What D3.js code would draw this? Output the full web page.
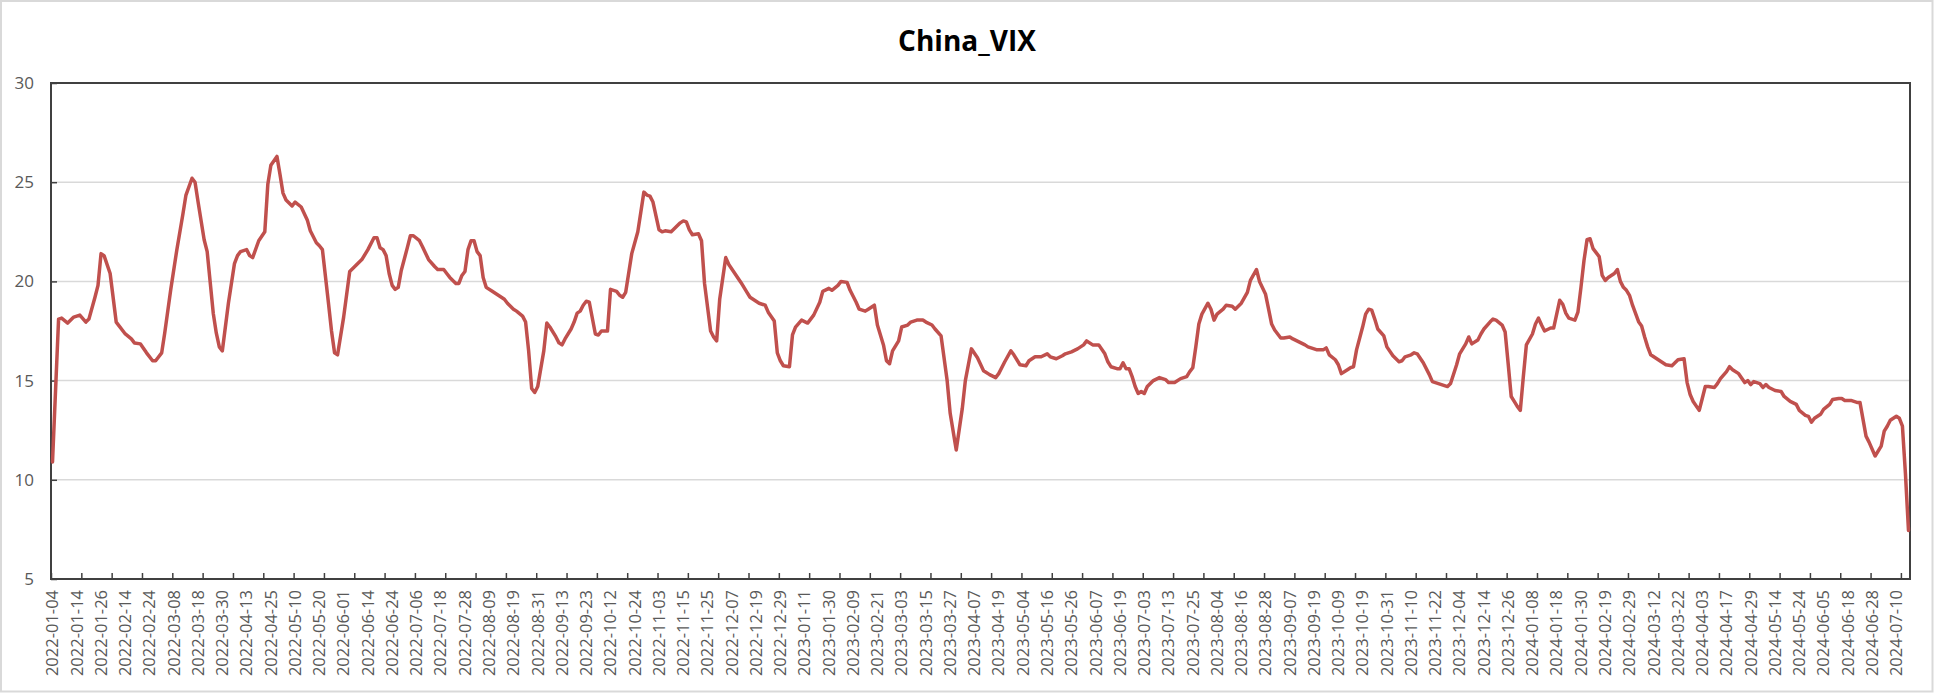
<!DOCTYPE html>
<html>
<head>
<meta charset="utf-8">
<script src="https://cdn.jsdelivr.net/npm/d3@7/dist/d3.min.js"></script>
<style>
  html, body { margin: 0; padding: 0; background: #fff; }
  svg { display: block; }
</style>
</head>
<body>
<svg id="chart" width="1934" height="693"></svg>
<script>
// ---- data ----
const title = "China_VIX";
const categoryCount = 613; // trading days on the category axis
const tickLabels = [
  "2022-01-04","2022-01-14","2022-01-26","2022-02-14","2022-02-24","2022-03-08","2022-03-18","2022-03-30",
  "2022-04-13","2022-04-25","2022-05-10","2022-05-20","2022-06-01","2022-06-14","2022-06-24","2022-07-06",
  "2022-07-18","2022-07-28","2022-08-09","2022-08-19","2022-08-31","2022-09-13","2022-09-23","2022-10-12",
  "2022-10-24","2022-11-03","2022-11-15","2022-11-25","2022-12-07","2022-12-19","2022-12-29",
  "2023-01-11","2023-01-30","2023-02-09","2023-02-21","2023-03-03","2023-03-15","2023-03-27","2023-04-07",
  "2023-04-19","2023-05-04","2023-05-16","2023-05-26","2023-06-07","2023-06-19","2023-07-03","2023-07-13",
  "2023-07-25","2023-08-04","2023-08-16","2023-08-28","2023-09-07","2023-09-19","2023-10-09","2023-10-19",
  "2023-10-31","2023-11-10","2023-11-22","2023-12-04","2023-12-14","2023-12-26",
  "2024-01-08","2024-01-18","2024-01-30","2024-02-19","2024-02-29","2024-03-12","2024-03-22","2024-04-03",
  "2024-04-17","2024-04-29","2024-05-14","2024-05-24","2024-06-05","2024-06-18","2024-06-28","2024-07-10"
];
const labelEvery = 8;
const tickEvery = 10;
const yTicks = [5, 10, 15, 20, 25, 30];

// trading-day index of each read-off vertex
const dayIndex = [
  0,1,2,3,5,7,9,11,12,14,15,16,17,19,21,24,26,27,29,31,33,34,36,37,39,41,43,44,46,47,48,50,51,53,54,55,56,58,60,61,62,64,65,66,68,70,71,72,74,75,76,77,79,80,82,84,85,87,88,89,91,92,93,94,96,98,
  100,102,104,106,107,108,109,110,111,112,113,114,115,117,118,119,121,122,124,126,127,129,130,131,133,134,135,136,137,138,139,140,141,142,143,145,147,149,150,152,153,155,156,157,158,159,160,162,163,164,166,167,168,169,171,172,173,174,175,176,177,179,180,181,183,184,186,187,188,189,191,193,194,195,196,197,198,
  200,201,202,204,205,207,208,209,210,211,213,214,215,217,218,219,220,222,223,225,227,229,230,232,233,235,236,238,239,240,241,243,244,245,247,249,251,253,254,256,257,259,260,262,263,265,266,268,269,271,272,274,275,276,277,279,280,282,283,285,287,288,290,291,293,295,296,298,
  300,301,303,305,307,309,311,312,314,316,317,319,321,322,324,326,328,329,331,333,334,336,338,340,341,343,345,347,348,349,351,352,353,354,355,356,357,358,359,360,361,363,365,367,368,370,372,374,375,376,377,378,379,381,382,383,384,386,387,389,390,392,394,395,397,398,
  400,401,402,403,405,406,408,409,411,413,414,416,417,419,420,421,423,424,425,427,428,429,430,432,433,434,435,436,437,439,440,442,444,445,446,448,449,450,452,454,455,457,459,460,461,463,464,466,467,468,470,471,472,474,475,476,478,479,480,481,482,483,484,485,486,488,489,490,491,492,494,495,497,498,499,
  500,502,503,504,505,506,507,508,509,510,511,512,513,514,515,516,517,518,519,520,521,523,524,525,526,527,529,531,532,534,535,536,538,539,540,541,543,544,545,546,548,549,550,552,553,554,556,558,559,560,561,563,564,565,566,568,570,571,573,575,576,578,579,580,581,583,584,586,587,589,590,591,593,594,595,596,598,599,601,603,604,605,606,608,609,610,611,612
];
const vixValue = [
  10.9,14.5,18.1,18.15,17.9,18.2,18.3,17.95,18.1,19.2,19.8,21.4,21.3,20.4,17.95,17.35,17.1,16.9,16.85,16.4,16.0,16.0,16.4,17.4,19.6,21.6,23.4,24.35,25.2,25.0,24.0,22.1,21.5,18.4,17.4,16.7,16.5,18.9,20.9,21.3,21.5,21.6,21.3,21.2,22.05,22.5,24.9,25.85,26.3,25.4,24.45,24.1,23.8,24.0,23.75,23.1,22.55,21.95,21.8,21.6,18.9,17.5,16.4,16.3,18.2,20.5,
  20.8,21.1,21.6,22.2,22.2,21.7,21.6,21.3,20.4,19.8,19.6,19.7,20.55,21.7,22.3,22.3,22.05,21.75,21.1,20.75,20.6,20.6,20.4,20.2,19.9,19.9,20.3,20.5,21.6,22.05,22.05,21.5,21.3,20.2,19.7,19.5,19.3,19.1,18.9,18.6,18.5,18.25,17.95,16.5,14.6,14.4,14.7,16.5,17.9,17.7,17.2,16.9,16.8,17.1,17.6,17.95,18.4,18.5,18.8,19.0,18.95,17.35,17.3,17.5,17.5,19.6,19.5,19.3,19.2,19.45,21.4,22.5,23.5,24.5,24.35,24.3,24.0,
  22.6,22.5,22.55,22.5,22.65,22.95,23.05,23.0,22.6,22.35,22.4,22.05,19.9,17.5,17.2,17.0,19.1,21.2,20.85,20.4,19.95,19.45,19.2,19.0,18.9,18.8,18.45,18.0,16.4,16.0,15.75,15.7,17.3,17.7,18.05,17.9,18.3,18.95,19.5,19.65,19.55,19.8,20.0,19.95,19.55,18.95,18.6,18.5,18.6,18.8,17.8,16.8,16.0,15.85,16.5,17.0,17.7,17.8,17.95,18.05,18.05,17.95,17.8,17.6,17.25,15.0,13.35,11.5,
  13.6,15.0,16.6,16.15,15.5,15.3,15.15,15.35,15.95,16.5,16.3,15.8,15.75,16.0,16.2,16.2,16.35,16.2,16.1,16.25,16.35,16.45,16.6,16.8,17.0,16.8,16.8,16.35,15.95,15.7,15.6,15.6,15.9,15.6,15.6,15.2,14.7,14.35,14.45,14.35,14.7,15.0,15.15,15.05,14.9,14.9,15.1,15.2,15.45,15.65,16.7,17.85,18.35,18.9,18.6,18.05,18.35,18.6,18.8,18.75,18.6,18.9,19.45,20.05,20.6,20.0,
  19.35,18.6,17.85,17.55,17.15,17.15,17.2,17.1,16.95,16.8,16.7,16.6,16.55,16.55,16.65,16.3,16.05,15.8,15.35,15.55,15.65,15.7,16.55,17.7,18.35,18.6,18.55,18.1,17.6,17.25,16.7,16.25,15.95,16.0,16.2,16.3,16.4,16.35,15.9,15.3,14.95,14.85,14.75,14.7,14.85,15.8,16.35,16.85,17.2,16.85,17.05,17.35,17.6,17.95,18.1,18.05,17.8,17.45,15.85,14.2,13.95,13.7,13.5,15.2,16.8,17.35,17.85,18.15,17.8,17.5,17.65,17.65,19.05,18.85,18.4,
  18.15,18.05,18.45,19.7,21.05,22.1,22.15,21.65,21.45,21.25,20.3,20.05,20.2,20.3,20.4,20.6,20.0,19.7,19.55,19.3,18.8,17.97,17.75,17.2,16.7,16.3,16.1,15.9,15.8,15.75,15.9,16.05,16.1,14.9,14.3,13.95,13.5,14.1,14.7,14.7,14.65,14.85,15.1,15.45,15.7,15.55,15.35,14.9,15.0,14.8,14.95,14.85,14.65,14.8,14.65,14.5,14.45,14.2,13.95,13.8,13.5,13.25,13.2,12.9,13.1,13.3,13.55,13.8,14.05,14.1,14.1,14.0,14.0,13.95,13.9,13.9,12.2,11.9,11.2,11.7,12.45,12.7,13.0,13.2,13.1,12.7,10.3,7.45
];

// ---- layout ----
const W = 1934, H = 693;
const plot = { left: 51, right: 1910, top: 83, bottom: 579 };
const FONT = "'Open Sans', 'Noto Sans', 'DejaVu Sans', sans-serif";

const svg = d3.select("#chart");

// outer chart frame
svg.append("rect")
  .attr("x", 1).attr("y", 1).attr("width", W - 2.5).attr("height", H - 2.5)
  .attr("fill", "#fff").attr("stroke", "#d9d9d9").attr("stroke-width", 2);

const x = d3.scaleLinear().domain([-0.5, categoryCount - 0.5]).range([plot.left, plot.right]);
const y = d3.scaleLinear().domain([5, 30]).range([plot.bottom, plot.top]);

// gridlines
svg.append("g").selectAll("line")
  .data(yTicks.filter(v => v > 5 && v < 30))
  .join("line")
  .attr("x1", plot.left).attr("x2", plot.right)
  .attr("y1", d => y(d)).attr("y2", d => y(d))
  .attr("stroke", "#d9d9d9").attr("stroke-width", 1.5);

// y axis (inside ticks, labels on left)
const yAxis = d3.axisRight(y).tickValues(yTicks).tickSize(6).tickFormat("");
const gy = svg.append("g").attr("transform", `translate(${plot.left},0)`).call(yAxis);
gy.select(".domain").remove();
gy.selectAll(".tick line").attr("stroke", "#404040").attr("stroke-width", 1.5);

svg.append("g").selectAll("text")
  .data(yTicks)
  .join("text")
  .attr("x", 34).attr("y", d => y(d))
  .attr("dy", "0.35em")
  .attr("text-anchor", "end")
  .attr("font-family", FONT).attr("font-size", 17)
  .attr("fill", "#595959")
  .text(d => d);

// x axis ticks on category boundaries (every 10 categories), pointing up inside
const boundaries = d3.range(0, categoryCount, tickEvery).map(k => k - 0.5);
const xAxis = d3.axisTop(x).tickValues(boundaries).tickSize(6).tickFormat("");
const gx = svg.append("g").attr("transform", `translate(0,${plot.bottom})`).call(xAxis);
gx.select(".domain").remove();
gx.selectAll(".tick line").attr("stroke", "#404040").attr("stroke-width", 1.5);

// x labels, every 8 categories
svg.append("g").selectAll("text")
  .data(tickLabels)
  .join("text")
  .attr("transform", (d, k) => `translate(${x(k * labelEvery)},590) rotate(-90)`)
  .attr("dy", "0.35em")
  .attr("text-anchor", "end")
  .attr("font-family", FONT).attr("font-size", 16.5)
  .attr("fill", "#595959")
  .text(d => d);

// plot area border
svg.append("rect")
  .attr("x", plot.left).attr("y", plot.top)
  .attr("width", plot.right - plot.left).attr("height", plot.bottom - plot.top)
  .attr("fill", "none").attr("stroke", "#404040").attr("stroke-width", 2);

// series line
const points = dayIndex.map((d, k) => ({ i: d, v: vixValue[k] }));
const line = d3.line().x(d => x(d.i)).y(d => y(d.v));
svg.append("path")
  .datum(points)
  .attr("d", line)
  .attr("fill", "none")
  .attr("stroke", "#C0504D")
  .attr("stroke-width", 3.5)
  .attr("stroke-linejoin", "round")
  .attr("stroke-linecap", "round");

// title
svg.append("text")
  .attr("x", 967).attr("y", 51)
  .attr("text-anchor", "middle")
  .attr("font-family", FONT).attr("font-size", 28).attr("font-weight", "bold")
  .attr("fill", "#000")
  .text(title);
</script>
</body>
</html>
